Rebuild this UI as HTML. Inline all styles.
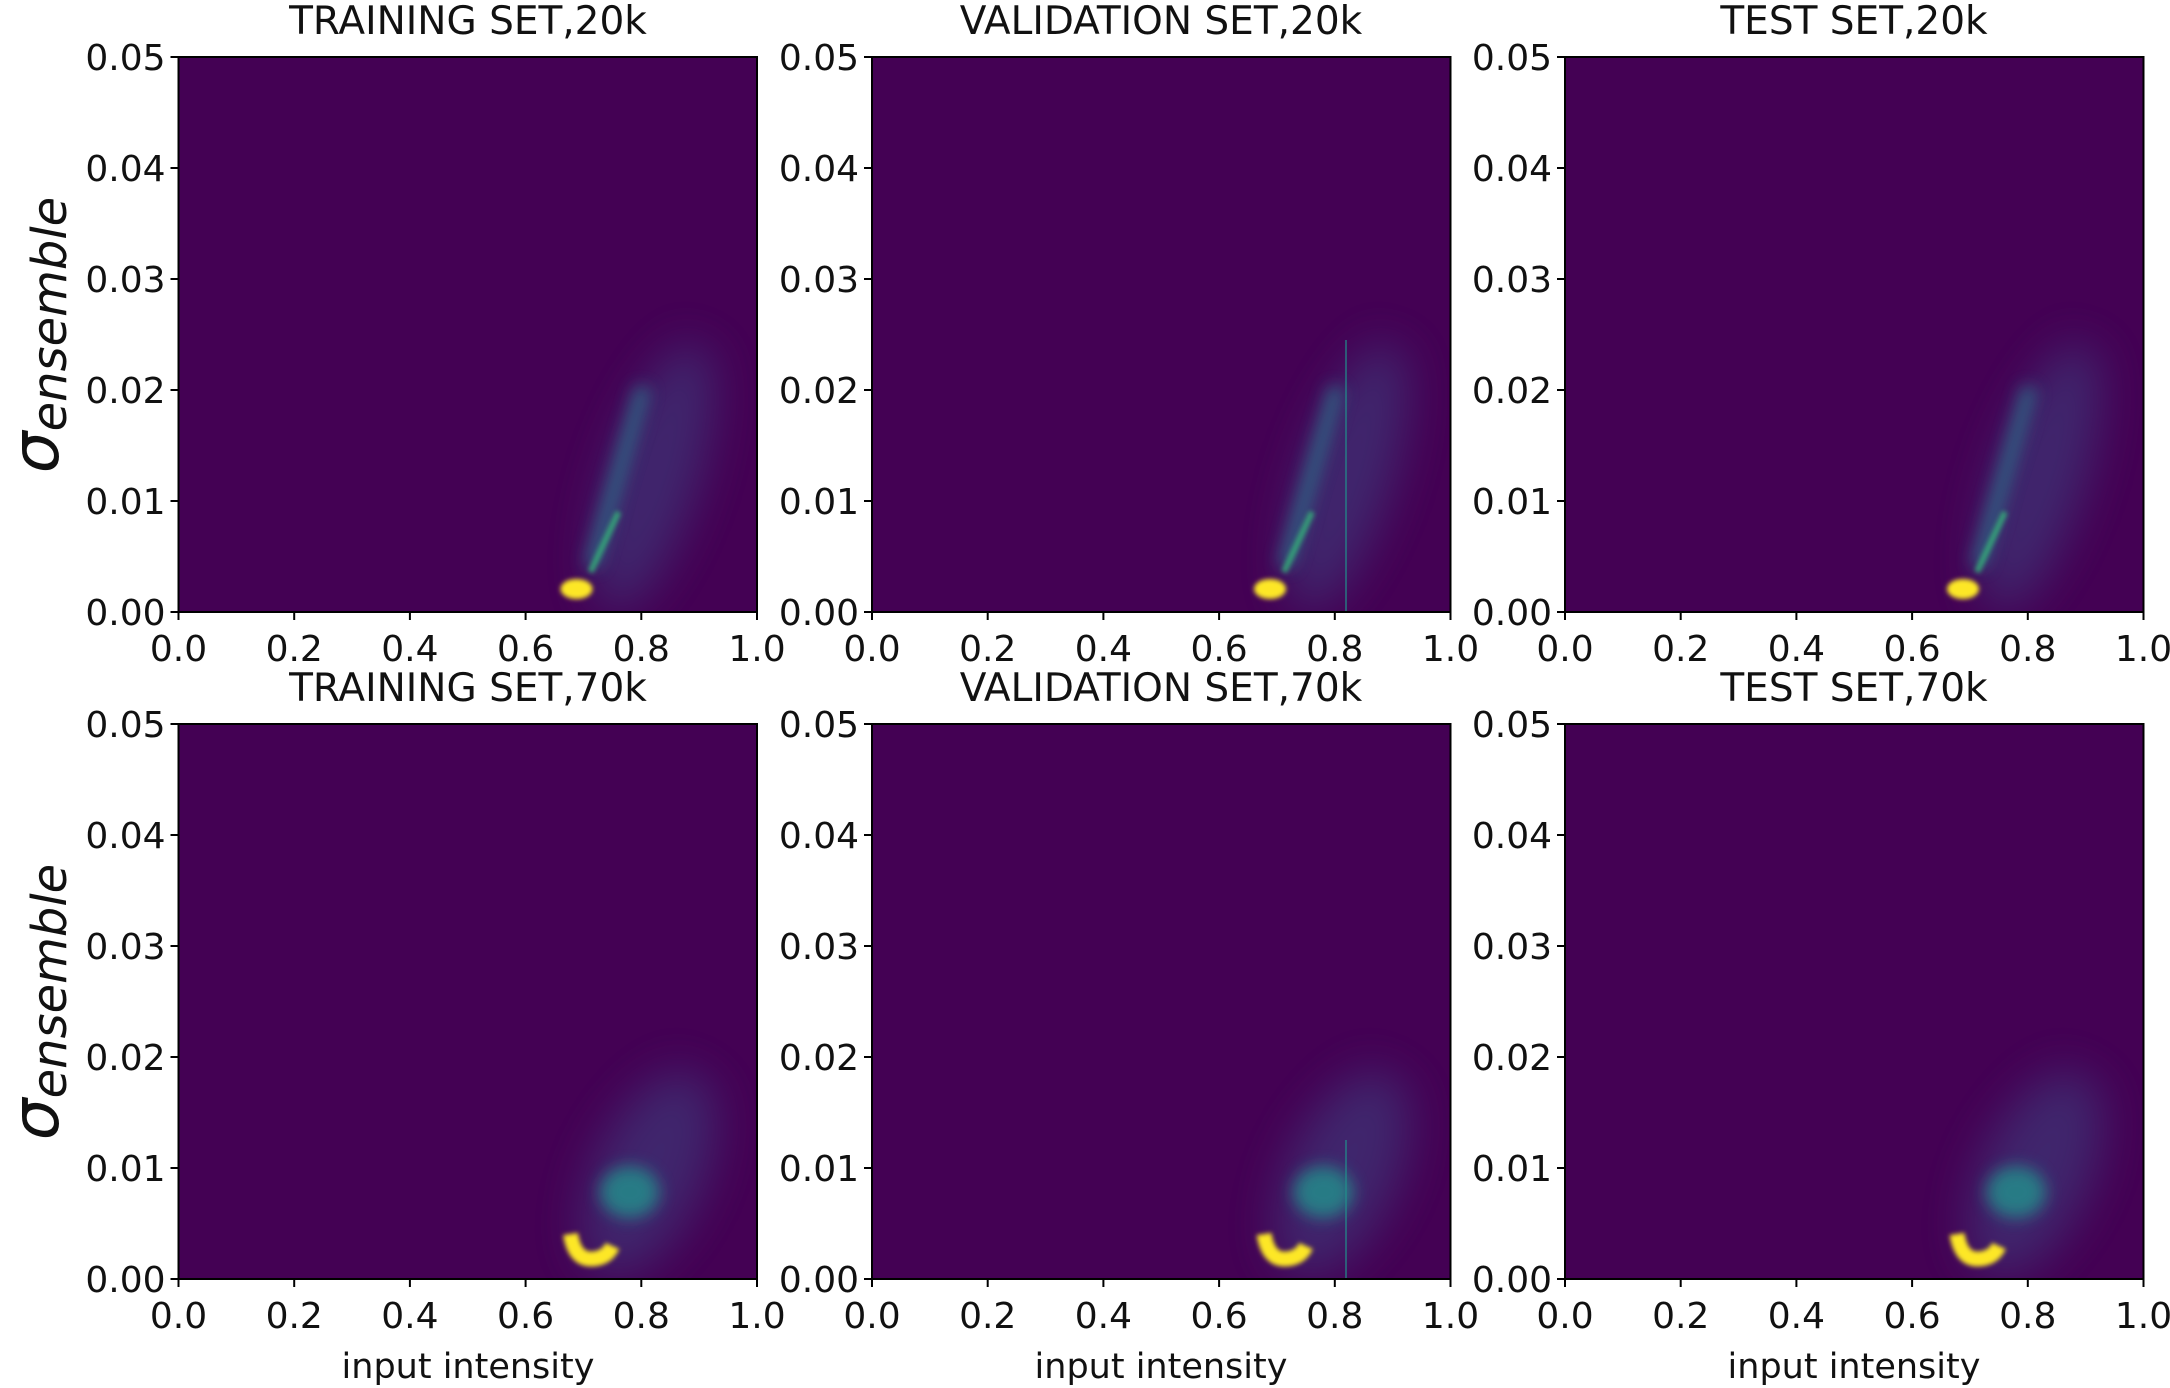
<!DOCTYPE html>
<html><head><meta charset="utf-8"><style>body{margin:0;background:#fff}svg{display:block}</style></head>
<body>
<svg width="2170" height="1388" viewBox="0 0 2170 1388" xmlns="http://www.w3.org/2000/svg" font-family="DejaVu Sans, Liberation Sans, sans-serif">
<defs>
<filter id="b20" x="-100%" y="-100%" width="300%" height="300%"><feGaussianBlur stdDeviation="22"/></filter>
<filter id="b8" x="-100%" y="-100%" width="300%" height="300%"><feGaussianBlur stdDeviation="8"/></filter>
<filter id="b3" x="-100%" y="-100%" width="300%" height="300%"><feGaussianBlur stdDeviation="2.5"/></filter>
<clipPath id="cp"><rect x="0" y="0" width="578.5" height="555"/></clipPath>
<g id="top">
<rect width="578.5" height="555" fill="#440154"/>
<g clip-path="url(#cp)">
<ellipse cx="475" cy="420" rx="45" ry="140" fill="#3b528b" opacity="0.45" filter="url(#b20)" transform="rotate(18 475 420)"/>
<line x1="413" y1="510" x2="465" y2="330" stroke="#2a788e" stroke-width="16" opacity="0.7" filter="url(#b8)"/>
<line x1="412" y1="515" x2="440" y2="455" stroke="#35b779" stroke-width="6" opacity="0.8" filter="url(#b3)"/>
<ellipse cx="398" cy="532" rx="16" ry="10" fill="#fde725" filter="url(#b3)"/>
</g></g>
<g id="bot">
<rect width="578.5" height="555" fill="#440154"/>
<g clip-path="url(#cp)">
<ellipse cx="470" cy="450" rx="55" ry="110" fill="#3b528b" opacity="0.45" filter="url(#b20)" transform="rotate(25 470 450)"/>
<ellipse cx="451" cy="468" rx="30" ry="26" fill="#21918c" opacity="0.8" filter="url(#b8)"/>
<path d="M392 510 Q396 535 412 535 Q428 535 434 522" stroke="#fde725" stroke-width="15" fill="none" filter="url(#b3)"/>
</g></g>
</defs>
<g font-size="39" fill="#111" text-anchor="middle">
<text x="468" y="34">TRAINING SET,20k</text>
<text x="1161" y="34">VALIDATION SET,20k</text>
<text x="1854" y="34">TEST SET,20k</text>
<text x="468" y="701">TRAINING SET,70k</text>
<text x="1161" y="701">VALIDATION SET,70k</text>
<text x="1854" y="701">TEST SET,70k</text>
</g>
<g font-size="35" fill="#111" text-anchor="middle">
<text x="468" y="1378">input intensity</text>
<text x="1161" y="1378">input intensity</text>
<text x="1854" y="1378">input intensity</text>
</g>
<use href="#top" x="178.5" y="57"/>
<use href="#top" x="872" y="57"/>
<use href="#top" x="1565" y="57"/>
<use href="#bot" x="178.5" y="724"/>
<use href="#bot" x="872" y="724"/>
<use href="#bot" x="1565" y="724"/>
<line x1="1346" y1="612" x2="1346" y2="340" stroke="#21918c" stroke-width="2" opacity="0.6"/>
<line x1="1346" y1="1279" x2="1346" y2="1140" stroke="#21918c" stroke-width="2" opacity="0.6"/>
<g fill="none" stroke="#000" stroke-width="2">
<rect x="178.5" y="57" width="578.5" height="555"/><rect x="872" y="57" width="578.5" height="555"/><rect x="1565" y="57" width="578.5" height="555"/>
<rect x="178.5" y="724" width="578.5" height="555"/><rect x="872" y="724" width="578.5" height="555"/><rect x="1565" y="724" width="578.5" height="555"/>
</g>
<g fill="#111" font-style="italic">
<text transform="translate(58 335) rotate(-90)" text-anchor="middle" font-size="66">σ<tspan font-size="48" dy="8">ensemble</tspan></text>
<text transform="translate(58 1002) rotate(-90)" text-anchor="middle" font-size="66">σ<tspan font-size="48" dy="8">ensemble</tspan></text>
</g>
<g id="axes"></g>
<script>
(function(){
var ns="http://www.w3.org/2000/svg",g=document.getElementById("axes");
var xs=[178.5,872,1565],ys=[57,724],w=578.5,h=555;
function el(t,a,txt){var e=document.createElementNS(ns,t);for(var k in a)e.setAttribute(k,a[k]);if(txt)e.textContent=txt;g.appendChild(e);}
xs.forEach(function(x0){ys.forEach(function(y0){
for(var i=0;i<=5;i++){
 var x=x0+i*w/5;el("line",{x1:x,x2:x,y1:y0+h,y2:y0+h+8,stroke:"#000","stroke-width":2});
 el("text",{x:x,y:y0+h+49,"font-size":36,"text-anchor":"middle",fill:"#111"},(i/5).toFixed(1));
 var y=y0+h-i*h/5;el("line",{x1:x0-8,x2:x0,y1:y,y2:y,stroke:"#000","stroke-width":2});
 el("text",{x:x0-13,y:y+13,"font-size":36,"text-anchor":"end",fill:"#111"},(i*0.01).toFixed(2));
}});});
})();
</script>
</svg>
</body></html>
